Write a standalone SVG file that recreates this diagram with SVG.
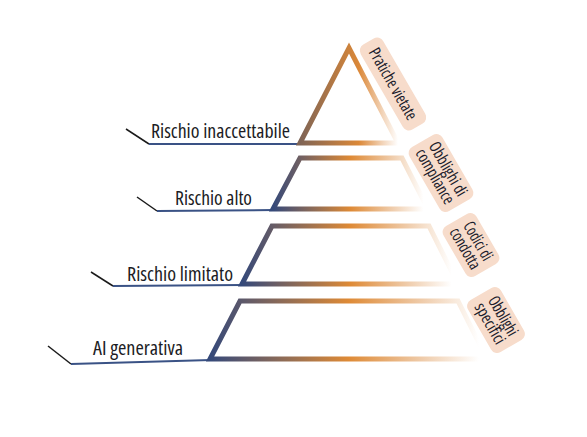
<svg xmlns="http://www.w3.org/2000/svg" width="587" height="437" viewBox="0 0 587 437">
<defs>
<linearGradient id="gTri" x1="0" y1="0" x2="1" y2="0">
<stop offset="0" stop-color="#7f6455"/>
<stop offset="0.6" stop-color="#db8838"/>
<stop offset="0.85" stop-color="#f3d6bc"/>
<stop offset="1" stop-color="#ffffff"/>
</linearGradient>
<linearGradient id="gTrap" x1="0" y1="0" x2="1" y2="0">
<stop offset="0" stop-color="#35497a"/>
<stop offset="0.5" stop-color="#de8a36"/>
<stop offset="0.78" stop-color="#f0cfb0"/>
<stop offset="0.97" stop-color="#ffffff"/>
</linearGradient>
<style>
.lvl{fill:none;stroke-width:5;stroke-linejoin:miter}
.tick{stroke:#1a1a1a;stroke-width:1.5;fill:none}
.lead{stroke:#3a5285;stroke-width:2;fill:none}
.lbl{font-family:"Open Sans","Liberation Sans",sans-serif;font-stretch:condensed;font-size:20px;fill:#1c1c24}
.box{fill:#f7dccb}
.btx{font-family:"Open Sans","Liberation Sans",sans-serif;font-stretch:condensed;font-size:16.5px;fill:#1c1c2c;text-anchor:middle}
</style>
</defs>
<g id="connectors">
<path class="tick" d="M126,129 L149,144"/>
<path class="lead" d="M149,144 L302,144"/>
<path class="tick" d="M137,197 L157,211"/>
<path class="lead" d="M157,211 L274,210"/>
<path class="tick" d="M91,272 L113,286"/>
<path class="lead" d="M113,286 L243,285"/>
<path class="tick" d="M48,346 L71,364"/>
<path class="lead" d="M71,364 L211,360"/>
</g>
<g id="level1">
<path class="lvl" stroke="url(#gTri)" d="M349,48 L398,143 L300,143 Z"/>
<text class="lbl" x="151" y="138" textLength="139" lengthAdjust="spacingAndGlyphs">Rischio inaccettabile</text>
</g>
<g id="level2">
<path class="lvl" stroke="url(#gTrap)" d="M300,158 L402,158 L428,209 L273,209 Z"/>
<text class="lbl" x="175" y="205" textLength="77" lengthAdjust="spacingAndGlyphs">Rischio alto</text>
</g>
<g id="level3">
<path class="lvl" stroke="url(#gTrap)" d="M272,226 L429,226 L458,284 L242,284 Z"/>
<text class="lbl" x="127" y="281" textLength="106" lengthAdjust="spacingAndGlyphs">Rischio limitato</text>
</g>
<g id="level4">
<path class="lvl" stroke="url(#gTrap)" d="M240,301 L458,301 L487,359 L210,359 Z"/>
<text class="lbl" x="93" y="355" textLength="90" lengthAdjust="spacingAndGlyphs">AI generativa</text>
</g>
<g id="tag1" transform="translate(393,84) rotate(60)">
<rect class="box" x="-49" y="-13" width="98" height="26" rx="7"/>
<text class="btx" x="0" y="5.5" textLength="80" lengthAdjust="spacingAndGlyphs">Pratiche vietate</text>
</g>
<g id="tag2" transform="translate(441,173) rotate(60)">
<rect class="box" x="-37" y="-19" width="74" height="38" rx="7"/>
<text class="btx" x="0" y="-2.5" textLength="60" lengthAdjust="spacingAndGlyphs">Obblighi di</text>
<text class="btx" x="0" y="12.5" textLength="61" lengthAdjust="spacingAndGlyphs">compliance</text>
</g>
<g id="tag3" transform="translate(471,245) rotate(60)">
<rect class="box" x="-29" y="-19" width="58" height="38" rx="7"/>
<text class="btx" x="0" y="-2.5" textLength="42" lengthAdjust="spacingAndGlyphs">Codici di</text>
<text class="btx" x="0" y="12.5" textLength="45" lengthAdjust="spacingAndGlyphs">condotta</text>
</g>
<g id="tag4" transform="translate(496,320) rotate(60)">
<rect class="box" x="-30" y="-19" width="60" height="38" rx="7"/>
<text class="btx" x="0" y="-2.5" textLength="43" lengthAdjust="spacingAndGlyphs">Obblighi</text>
<text class="btx" x="0" y="12.5" textLength="45" lengthAdjust="spacingAndGlyphs">specifici</text>
</g>
</svg>
